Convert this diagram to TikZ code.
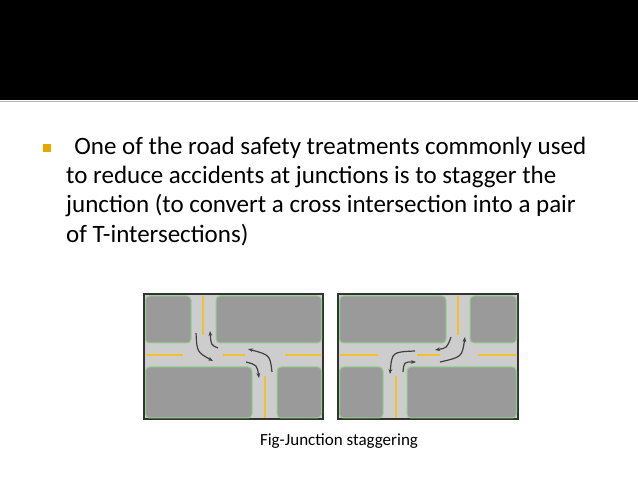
\documentclass[tikz,border=0pt]{standalone}
\usepackage{fontspec}
\setmainfont{Carlito}
\usetikzlibrary{arrows.meta}
\definecolor{blk}{HTML}{9A9A9A}
\definecolor{road}{HTML}{CDCDCD}
\definecolor{edge}{HTML}{8FD18A}
\definecolor{yel}{HTML}{F2C12E}
\definecolor{bul}{HTML}{E8A800}
\tikzset{x=1pt,y=-1pt,
 block/.style={fill=blk,draw=edge,line width=1pt,rounded corners=4pt},
 panel/.style={fill=road,draw=black!80,line width=1.2pt},
 cl/.style={draw=yel,line width=2pt},
 turn/.style={draw=black!75,line width=1.2pt,-{Stealth[length=5pt]}},
 txt/.style={anchor=west,font=\fontsize{25}{29}\selectfont,inner sep=0}}
\begin{document}
\begin{tikzpicture}
\useasboundingbox (0,0) rectangle (638,478);
\fill[black] (0,0) rectangle (638,100);
\draw[gray!60,line width=0.8pt] (0,101.5) -- (638,101.5);
\node[fill=bul,minimum size=8pt,inner sep=0] (b) at (47,148) {};
\node[txt] (t1) at (70,148) {\,One of the road safety treatments commonly used};
\node[txt] (t2) at (66,177) {to reduce accidents at junctions is to stagger the};
\node[txt] (t3) at (66,206) {junction (to convert a cross intersection into a pair};
\node[txt] (t4) at (66,235) {of T-intersections)};
% left panel
\draw[panel] (144,294) rectangle (323,419);
\draw[block] (145.5,296) rectangle (191,343);
\draw[block] (216,296) rectangle (321.5,343);
\draw[block] (145.5,367) rectangle (252,418);
\draw[block] (277,367) rectangle (321.5,418);
\draw[cl] (203,296) -- (203,335);
\draw[cl] (146,355) -- (183,355) (223,355) -- (245,355) (285,355) -- (321,355);
\draw[cl] (265,376) -- (265,418);
\coordinate (a1) at (196,333); \coordinate (a2) at (213,361);
\coordinate (a3) at (218,348); \coordinate (a4) at (210,331);
\coordinate (a5) at (272,372); \coordinate (a6) at (248,349);
\coordinate (a7) at (246,362); \coordinate (a8) at (259,378);
\draw[turn] (a1) .. controls (197,352) .. (a2);
\draw[turn] (a3) .. controls (211,345) .. (a4);
\draw[turn] (a5) .. controls (270,355) .. (a6);
\draw[turn] (a7) .. controls (257,365) .. (a8);
% right panel
\draw[panel] (338,294) rectangle (518,419);
\draw[block] (339.5,296) rectangle (446,343);
\draw[block] (470,296) rectangle (516.5,343);
\draw[block] (339.5,367) rectangle (383,418);
\draw[block] (407,367) rectangle (516.5,418);
\draw[cl] (458,296) -- (458,335);
\draw[cl] (340,355) -- (378,355) (417,355) -- (440,355) (478,355) -- (516,355);
\draw[cl] (396,376) -- (396,418);
\coordinate (c1) at (415,351); \coordinate (c2) at (390,374);
\coordinate (c3) at (403,372); \coordinate (c4) at (416,362);
\coordinate (c5) at (451,337); \coordinate (c6) at (435,350);
\coordinate (c7) at (440,362); \coordinate (c8) at (465,337);
\draw[turn] (c1) .. controls (392,352) .. (c2);
\draw[turn] (c3) .. controls (404,362) .. (c4);
\draw[turn] (c5) .. controls (447,348) .. (c6);
\draw[turn] (c7) .. controls (462,357) .. (c8);
\node[font=\fontsize{17}{19}\selectfont] (cap) at (339,441) {Fig-Junction staggering};
\end{tikzpicture}
\end{document}
